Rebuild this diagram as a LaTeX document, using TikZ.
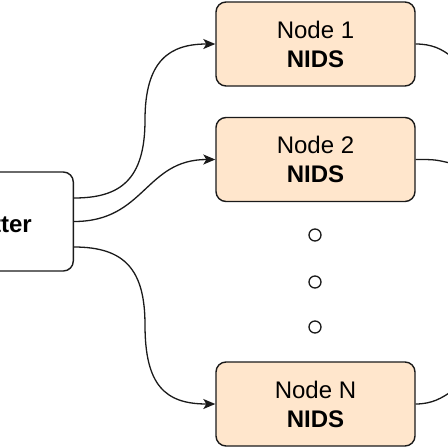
\documentclass[tikz,border=0pt]{standalone}
\usepackage{fontspec}
\setmainfont{Liberation Sans}
\usetikzlibrary{arrows.meta,calc}
\definecolor{peach}{HTML}{FFE6CC}
\definecolor{ink}{HTML}{1A1A1A}
\begin{document}
\begin{tikzpicture}[x=1pt,y=-1pt,
  nids/.style={draw=ink, fill=peach, rounded corners=10pt, line width=1.4pt,
    minimum width=199pt, minimum height=84pt, inner sep=0pt, align=center,
    font=\fontsize{24}{29}\selectfont},
  splitbox/.style={draw=ink, rounded corners=10pt, line width=1.4pt,
    minimum width=200pt, minimum height=99pt, inner sep=0pt},
  conn/.style={draw=ink, line width=1.3pt, -{Stealth[length=12pt,width=10pt,inset=3pt]}},
  plain/.style={draw=ink, line width=1.3pt},
  dot/.style={circle, draw=ink, line width=1.3pt, minimum size=12pt, inner sep=0pt}]
\useasboundingbox (0,0) rectangle (448,448);

\node[nids] (n1) at (315.5,44) {Node 1\\\textbf{NIDS}};
\node[nids] (n2) at (315.5,159.5) {Node 2\\\textbf{NIDS}};
\node[nids] (nN) at (315.5,404) {Node N\\\textbf{NIDS}};

\node[splitbox, anchor=east] (split) at (74,221.5) {};
\node[font=\fontsize{24}{29}\selectfont\bfseries, anchor=base east, inner sep=0pt] (splitlabel) at (32,232) {Splitter};

\draw[conn] ([yshift=23.5pt]split.east) .. controls (120,198) and (145,180) .. (145,120)
  .. controls (145,60) and (170,44) .. (n1.west);
\draw[conn] (split.east) .. controls (145,221.5) and (145,159.5) .. (n2.west);
\draw[conn] ([yshift=-25.5pt]split.east) .. controls (125,247) and (145,270) .. (145,325)
  .. controls (145,385) and (165,404) .. (nN.west);

\coordinate (o1) at (452,57);
\coordinate (o2) at (452,163.5);
\coordinate (oN) at (452,391);
\draw[plain] (n1.east) .. controls (432,44) and (442,49) .. (o1);
\draw[plain] (n2.east) .. controls (435,159.5) .. (o2);
\draw[plain] (nN.east) .. controls (432,404) and (442,398) .. (oN);

\node[dot] (d1) at (315,235) {};
\node[dot] (d2) at (315,282) {};
\node[dot] (d3) at (315,327) {};
\end{tikzpicture}
\end{document}
